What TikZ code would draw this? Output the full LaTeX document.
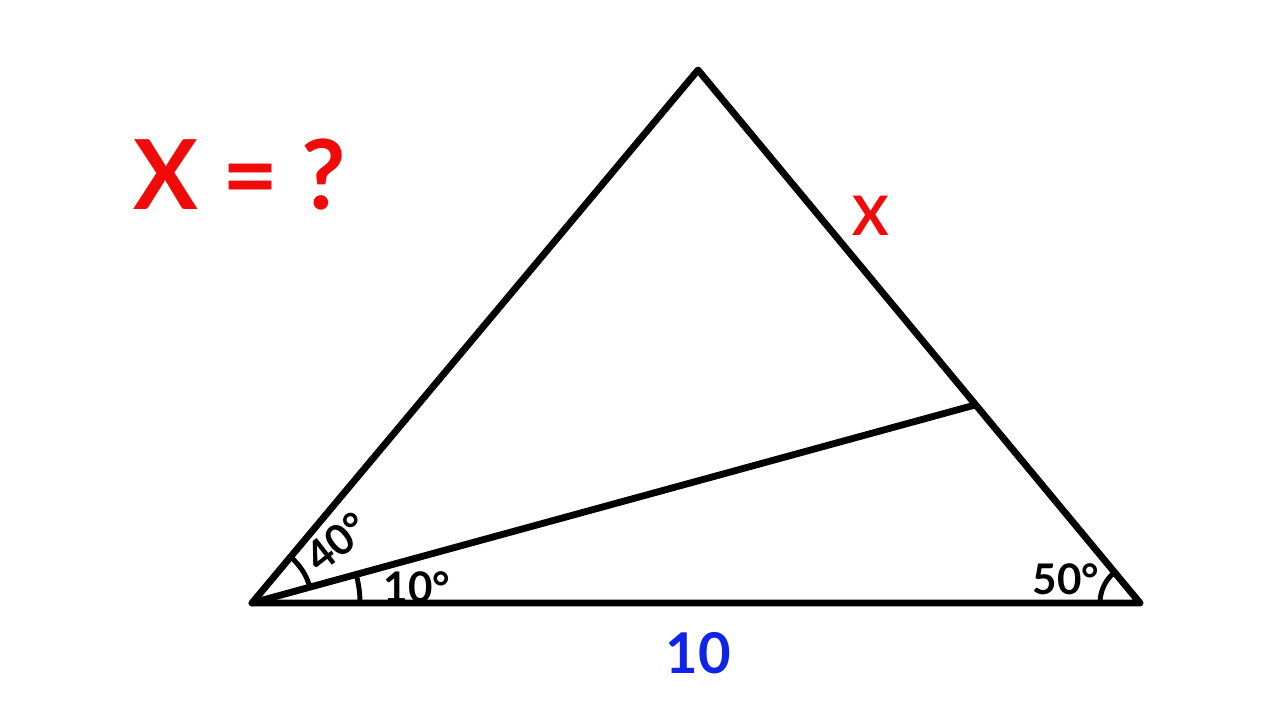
\documentclass[tikz,border=0pt]{standalone}
\usepackage{fontspec}
\setmainfont{Lato}
\usepackage{xcolor}
\definecolor{rot}{RGB}{240,10,10}
\definecolor{blau}{RGB}{15,35,235}

\begin{document}
\begin{tikzpicture}[x=0.02cm,y=0.02cm,seite/.style={line width=3.9pt,line cap=round,line join=round},winkel/.style={line width=2.8pt},grad/.style={font=\bfseries\fontsize{24}{26}\selectfont,inner sep=0pt}]
\useasboundingbox (0,0) rectangle (1280,720);
\coordinate (A) at (252,117);
\coordinate (B) at (1140,117);
\coordinate (C) at (698,650);
\coordinate (D) at (975,315);
\draw [seite] (A) -- (B) -- (C) -- cycle;
\draw [seite] (A) -- (D);
\draw [winkel] (A) ++(0:108) arc[start angle=0,end angle=15.2,radius=108];
\draw [winkel] (A) ++(15.2:60) arc[start angle=15.2,end angle=50.1,radius=60];
\draw [winkel] (B) ++(129.7:40) arc[start angle=129.7,end angle=180,radius=40];
\node  [grad,rotate=38] (w40) at (337,178){40°};
\node  [grad] (w10) at (417,133){10°};
\node  [grad] (w50) at (1066,141){50°};
\node  [blau,font=\bfseries\fontsize{32}{34}\selectfont] (basis) at (698,67){10};
\node  [rot,font=\bfseries\fontsize{31}{33}\selectfont] (x) at (871,504){X};
\node  [rot,font=\bfseries\fontsize{55}{60}\selectfont] (frage) at (240,545){X = ?};
\end{tikzpicture}
\end{document}
